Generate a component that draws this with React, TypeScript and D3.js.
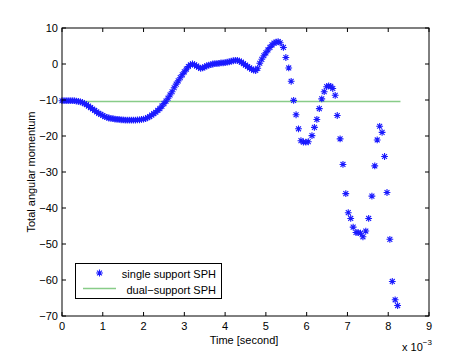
import React from "react";
import * as d3 from "d3";

const denseValues = [
  -10.2, -10.2, -10.2, -10.2, -10.2, -10.2, -10.2, -10.3, -10.4, -10.5,
  -10.7, -11.0, -11.3, -11.7, -12.1, -12.5, -12.9, -13.3, -13.7, -14.0,
  -14.3, -14.6, -14.8, -15.0, -15.1, -15.2, -15.3, -15.4, -15.4, -15.5,
  -15.5, -15.6, -15.6, -15.6, -15.6, -15.6, -15.6, -15.5, -15.5, -15.4,
  -15.3, -15.2, -14.9, -14.6, -14.2, -13.8, -13.4, -12.9, -12.4, -11.7,
  -11.0, -10.3, -9.5, -8.6, -7.7, -6.6, -5.6, -4.7, -3.8, -3.0,
  -2.2, -1.4, -0.7, -0.2, 0.0, -0.2, -0.6, -0.9, -1.2, -1.1,
  -0.8, -0.5, -0.3, -0.2, 0.0, 0.1, 0.1, 0.2, 0.3, 0.3,
  0.4, 0.5, 0.6, 0.8, 0.9, 1.0, 1.0, 0.8, 0.5, 0.1,
  -0.3, -0.7, -1.1, -1.4, -1.7, -1.8, -1.2, 0.2, 1.3, 2.3,
  3.1, 3.9, 4.6, 5.3, 5.8, 6.1, 6.2, 5.9,
];
// dense part sampled every 0.05 (x 1e-3 s)
const denseTimes = denseValues.map((_, i) => i * 0.05);

const sparseTimes = [
  5.43, 5.49, 5.56, 5.62, 5.68, 5.74, 5.80, 5.86, 5.92, 5.98,
  6.04, 6.13, 6.19, 6.25, 6.31, 6.37, 6.43, 6.49, 6.54, 6.59,
  6.64, 6.70, 6.75, 6.82, 6.89, 6.96, 7.02, 7.08, 7.14, 7.21,
  7.26, 7.32, 7.38, 7.45, 7.52, 7.60, 7.67, 7.73, 7.79, 7.85,
  7.91, 7.97, 8.04, 8.10, 8.17, 8.23,
];
const sparseValues = [
  4.6, 1.8, -1.1, -4.8, -10.1, -14.1, -18.0, -21.3, -21.7, -21.7,
  -21.6, -19.9, -17.6, -15.4, -12.4, -9.7, -7.7, -6.3, -6.1, -6.2,
  -6.8, -8.7, -14.3, -20.8, -27.9, -36.0, -41.3, -42.9, -45.3, -46.8,
  -46.8, -47.0, -48.0, -46.4, -42.9, -36.7, -28.3, -21.1, -17.3, -19.0,
  -25.7, -35.7, -48.7, -60.4, -65.5, -67.1,
];

const dualTimes = [0, 8.3];
const dualValues = [-10.4, -10.4];

const xTicks = [0, 1, 2, 3, 4, 5, 6, 7, 8, 9];
const yTicks = [10, 0, -10, -20, -30, -40, -50, -60, -70];

const W = 474;
const H = 356;
const M = { left: 62, right: 429, top: 28, bottom: 316 };
const FONT = "'Liberation Sans', Arial, Helvetica, sans-serif";
const BLUE = "#1a1aff";
const GREEN = "#88cc88";

function Star({ x, y }: { x: number; y: number }) {
  const r = 3.4;
  const d = r * 0.72;
  return (
    <path
      d={`M${x - r},${y}H${x + r}M${x},${y - r}V${y + r}M${x - d},${y - d}L${x + d},${y + d}M${x - d},${y + d}L${x + d},${y - d}`}
      stroke={BLUE}
      strokeWidth={1.1}
      fill="none"
    />
  );
}

export default function App() {
  const x = d3.scaleLinear().domain([0, 9]).range([M.left, M.right]);
  const y = d3.scaleLinear().domain([-70, 10]).range([M.bottom, M.top]);
  const times = [...denseTimes, ...sparseTimes];
  const values = [...denseValues, ...sparseValues];
  const line = d3
    .line<number>()
    .x((_, i) => x(dualTimes[i]))
    .y((d) => y(d));
  const tl = 4;
  return (
    <svg
      width={W}
      height={H}
      style={{ position: "absolute", left: 0, top: 0, background: "#fff" }}
      fontFamily={FONT}
    >
      <rect x={0} y={0} width={W} height={H} fill="#fff" />
      <path d={line(dualValues) || ""} stroke={GREEN} strokeWidth={1.6} fill="none" />
      {values.map((v, i) => (
        <Star key={i} x={x(times[i])} y={y(v)} />
      ))}
      <rect
        x={M.left}
        y={M.top}
        width={M.right - M.left}
        height={M.bottom - M.top}
        fill="none"
        stroke="#000"
        strokeWidth={1}
      />
      {xTicks.map((t) => (
        <g key={"x" + t}>
          <line x1={x(t)} x2={x(t)} y1={M.bottom} y2={M.bottom - tl} stroke="#000" />
          <line x1={x(t)} x2={x(t)} y1={M.top} y2={M.top + tl} stroke="#000" />
          <text x={x(t)} y={330} fontSize={11} textAnchor="middle">
            {t}
          </text>
        </g>
      ))}
      {yTicks.map((t) => (
        <g key={"y" + t}>
          <line x1={M.left} x2={M.left + tl} y1={y(t)} y2={y(t)} stroke="#000" />
          <line x1={M.right} x2={M.right - tl} y1={y(t)} y2={y(t)} stroke="#000" />
          <text x={58} y={y(t) + 4} fontSize={11} textAnchor="end">
            {t < 0 ? "\u2212" + Math.abs(t) : t}
          </text>
        </g>
      ))}
      <text x={244} y={344} fontSize={11} textAnchor="middle">
        Time [second]
      </text>
      <text x={402} y={351} fontSize={11}>
        x 10
        <tspan fontSize={8} dy={-6}>
          {"\u22123"}
        </tspan>
      </text>
      <text
        transform={`translate(35,${(M.top + M.bottom) / 2}) rotate(-90)`}
        fontSize={11}
        textAnchor="middle"
      >
        Total angular momentum
      </text>
      <rect x={75.5} y={263.5} width={146} height={35} fill="#fff" stroke="#000" strokeWidth={1} />
      <Star x={99.5} y={273} />
      <line x1={83} x2={116} y1={288.5} y2={288.5} stroke={GREEN} strokeWidth={1.6} />
      <text x={216} y={278} fontSize={11} textAnchor="end">
        single support SPH
      </text>
      <text x={216} y={294} fontSize={11} textAnchor="end">
        dual{"\u2212"}support SPH
      </text>
    </svg>
  );
}
